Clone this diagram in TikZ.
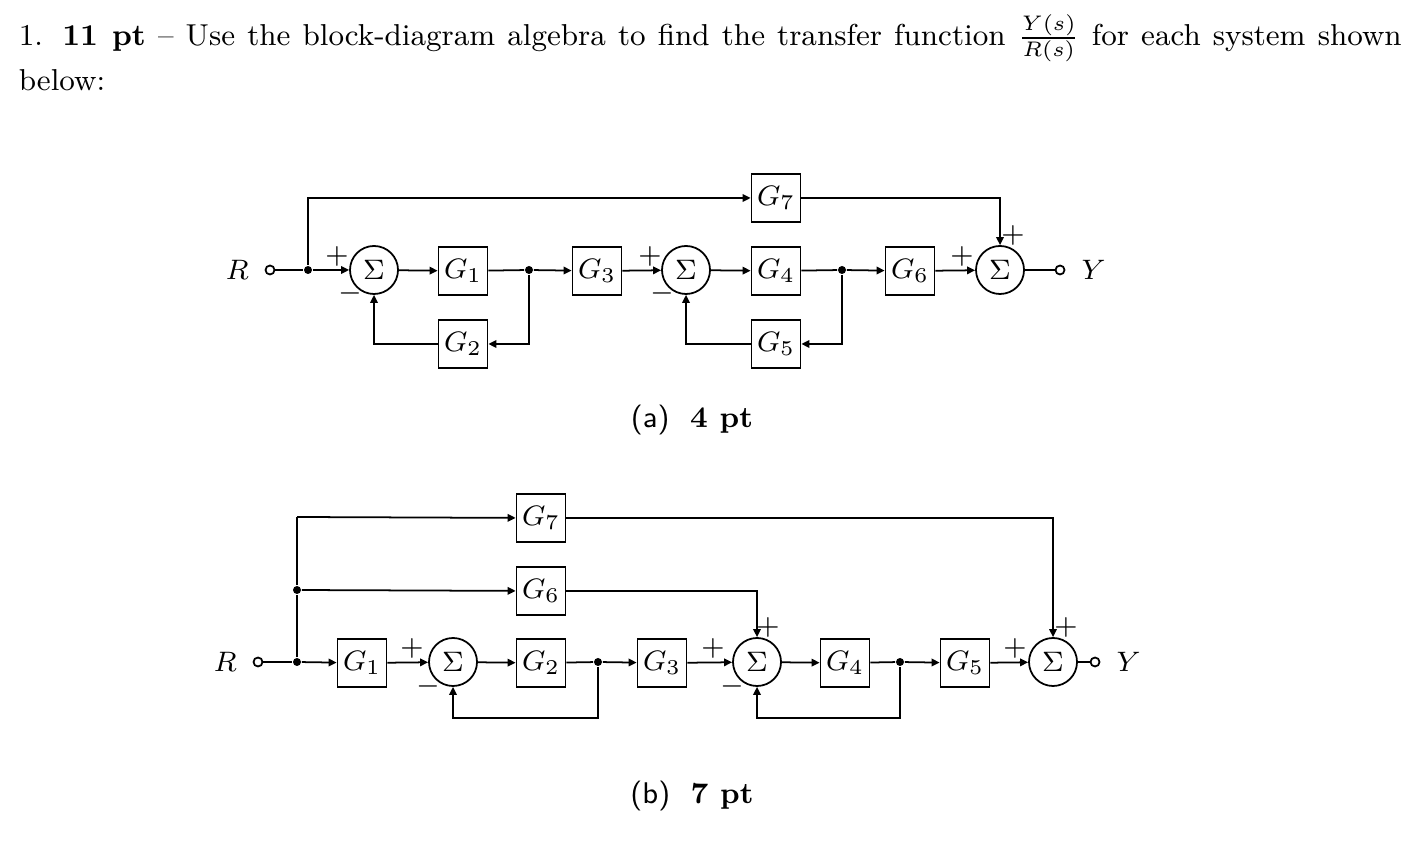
\documentclass[tikz,border=0pt]{standalone}
\usetikzlibrary{arrows.meta}
\begin{document}
\begin{tikzpicture}[x=0.01cm,y=-0.01cm,line width=0.5pt,
  blk/.style={draw,minimum width=0.49cm,minimum height=0.48cm,inner sep=0pt,font=\fontsize{8.5}{10}\selectfont},
  sum/.style={draw,circle,minimum size=0.48cm,inner sep=0pt,font=\fontsize{8.5}{10}\selectfont},
  term/.style={draw,circle,minimum size=0.09cm,inner sep=0pt,fill=white},
  dot/.style={circle,fill,minimum size=0.08cm,inner sep=0pt},
  sgn/.style={font=\fontsize{8}{9}\selectfont},
  >={Triangle[length=0.8mm,width=0.75mm]}]
\useasboundingbox (0,0) rectangle (1416,868);
% header
\node[anchor=north west,text width=13.82cm,align=justify,inner sep=0pt,
  font=\fontsize{8.6}{12.8}\selectfont] (hdr) at (18,14)
  {1. \textbf{11 pt} -- Use the block-diagram algebra to find the transfer function $\frac{Y(s)}{R(s)}$ for each system shown below:};

% ---------------- (a) ----------------
\node[term] (aR) at (270,270) {};
\node[left=1pt,font=\fontsize{8.5}{10}\selectfont\itshape] (aRl) at (aR.west) {$R$};
\node[dot] (ad1) at (308,270) {};
\node[sum] (as1) at (374,270) {$\Sigma$};
\node[blk] (aG1) at (463,271) {$G_1$};
\node[dot] (ad2) at (529,270) {};
\node[blk] (aG2) at (463,344) {$G_2$};
\node[blk] (aG3) at (597,271) {$G_3$};
\node[sum] (as2) at (686,270) {$\Sigma$};
\node[blk] (aG4) at (776,271) {$G_4$};
\node[dot] (ad3) at (842,270) {};
\node[blk] (aG5) at (776,344) {$G_5$};
\node[blk] (aG6) at (910,271) {$G_6$};
\node[sum] (as3) at (1000,270) {$\Sigma$};
\node[term] (aY) at (1060,270) {};
\node[right=1pt,font=\fontsize{8.5}{10}\selectfont] (aYl) at (aY.east) {$Y$};
\node[blk] (aG7) at (776,198) {$G_7$};
\draw (aR) -- (ad1);
\draw[->] (ad1) -- (as1);
\draw[->] (as1) -- (aG1);
\draw (aG1) -- (ad2);
\draw[->] (ad2) -- (aG3);
\draw[->] (ad2) |- (aG2);
\draw[->] (aG2) -| (as1);
\draw[->] (aG3) -- (as2);
\draw[->] (as2) -- (aG4);
\draw (aG4) -- (ad3);
\draw[->] (ad3) -- (aG6);
\draw[->] (ad3) |- (aG5);
\draw[->] (aG5) -| (as2);
\draw[->] (aG6) -- (as3);
\draw (as3) -- (aY);
\draw[->] (ad1) |- (aG7);
\draw[->] (aG7) -| (as3);
\node[sgn] (ap1) at (337,256) {$+$};
\node[sgn] (am1) at (350,293) {$-$};
\node[sgn] (ap2) at (650,256) {$+$};
\node[sgn] (am2) at (662,293) {$-$};
\node[sgn] (ap3) at (962,256) {$+$};
\node[sgn] (ap4) at (1013,235) {$+$};
\node[font=\fontsize{8.5}{10}\selectfont] (capa) at (692,420) {\textsf{(a)}\ \ \textbf{4 pt}};

% ---------------- (b) ----------------
\node[term] (bR) at (258,662) {};
\node[left=1pt,font=\fontsize{8.5}{10}\selectfont] (bRl) at (bR.west) {$R$};
\node[dot] (bd1) at (297,662) {};
\node[dot] (bd0) at (297,590) {};
\coordinate (bt) at (297,517);
\node[blk] (bG1) at (362,663) {$G_1$};
\node[sum] (bs1) at (453,662) {$\Sigma$};
\node[blk] (bG2) at (541,663) {$G_2$};
\node[dot] (bd2) at (598,662) {};
\node[blk] (bG3) at (662,663) {$G_3$};
\node[sum] (bs2) at (757,662) {$\Sigma$};
\node[blk] (bG4) at (845,663) {$G_4$};
\node[dot] (bd3) at (900,662) {};
\node[blk] (bG5) at (965,663) {$G_5$};
\node[sum] (bs3) at (1053,662) {$\Sigma$};
\node[term] (bY) at (1095,662) {};
\node[right=1pt,font=\fontsize{8.5}{10}\selectfont] (bYl) at (bY.east) {$Y$};
\node[blk] (bG7) at (541,518) {$G_7$};
\node[blk] (bG6) at (541,591) {$G_6$};
\draw (bR) -- (bd1);
\draw[->] (bd1) -- (bG1);
\draw[->] (bG1) -- (bs1);
\draw[->] (bs1) -- (bG2);
\draw (bG2) -- (bd2);
\draw[->] (bd2) -- (bG3);
\draw[->] (bd2) -- (598,718) -| (bs1);
\draw[->] (bG3) -- (bs2);
\draw[->] (bs2) -- (bG4);
\draw (bG4) -- (bd3);
\draw[->] (bd3) -- (bG5);
\draw[->] (bd3) -- (900,718) -| (bs2);
\draw[->] (bG5) -- (bs3);
\draw (bs3) -- (bY);
\draw (bd1) -- (bd0) -- (bt);
\draw[->] (bt) -- (bG7);
\draw[->] (bd0) -- (bG6);
\draw[->] (bG6) -| (bs2);
\draw[->] (bG7) -| (bs3);
\node[sgn] (bp1) at (412,648) {$+$};
\node[sgn] (bm1) at (428,686) {$-$};
\node[sgn] (bp2) at (713,648) {$+$};
\node[sgn] (bm2) at (732,686) {$-$};
\node[sgn] (bp3) at (768,627) {$+$};
\node[sgn] (bp4) at (1015,648) {$+$};
\node[sgn] (bp5) at (1066,627) {$+$};
\node[font=\fontsize{8.5}{10}\selectfont] (capb) at (692,796) {\textsf{(b)}\ \ \textbf{7 pt}};
\end{tikzpicture}
\end{document}
